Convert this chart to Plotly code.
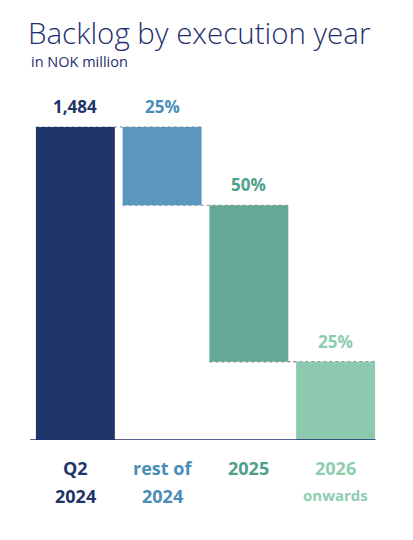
import plotly.graph_objects as go

# backlog split, NOK million
categories = ["Q2 2024", "rest of 2024", "2025", "2026 onwards"]
tick_lines = [("Q2", "2024"), ("rest of", "2024"), ("2025", ""), ("2026", "onwards")]
total = 1484
shares = [0.25, 0.50, 0.25]
bar_labels = ["1,484", "25%", "50%", "25%"]
colors = ["#1F3468", "#5B97BD", "#66A897", "#8DC9AF"]
label_colors = ["#1F3468", "#4A8DB8", "#4FA08A", "#8DCDB0"]

# waterfall: full bar, then falling steps
values = [total] + [total * s for s in shares]
bases = [0]
level = total
for v in values[1:]:
    level -= v
    bases.append(level)

xs = list(range(len(categories)))

fig = go.Figure(go.Bar(
    x=xs, y=values, base=bases,
    width=0.91,
    marker=dict(color=colors, line=dict(width=0)),
    cliponaxis=False,
))

# value labels above each bar
for i, t in enumerate(bar_labels):
    fig.add_annotation(x=i, y=bases[i] + values[i], xref="x", yref="y",
                       yanchor="bottom", yshift=7, text=f"<b>{t}</b>", showarrow=False,
                       font=dict(family="Open Sans", size=17, color=label_colors[i]))

# dotted connectors at each step level
for i in range(1, len(values)):
    lvl = bases[i] + values[i]
    fig.add_shape(type="line", xref="x", yref="y",
                  x0=i - 1 - 0.455, x1=i + 0.455, y0=lvl, y1=lvl,
                  line=dict(color="#8A8A8A", width=1, dash="dot"), layer="below")
fig.add_shape(type="line", xref="x", yref="y",
              x0=2 - 0.455, x1=3 + 0.455, y0=bases[2], y1=bases[2],
              line=dict(color="#8A8A8A", width=1, dash="dot"), layer="below")

# category labels under the axis
for i, (a, b) in enumerate(tick_lines):
    fig.add_annotation(x=i, y=0, xref="x", yref="y", yanchor="top", yshift=-14,
                       text=f"<b>{a}</b>", showarrow=False,
                       font=dict(family="Open Sans", size=18, color=label_colors[i]))
    if b:
        size = 15 if b == "onwards" else 18
        fig.add_annotation(x=i, y=0, xref="x", yref="y", yanchor="top",
                           yshift=-42 if size == 18 else -43,
                           text=f"<b>{b}</b>", showarrow=False,
                           font=dict(family="Open Sans", size=size, color=label_colors[i]))

fig.add_annotation(x=-0.016, y=1.228, xref="paper", yref="paper", xanchor="left", yanchor="top",
                   text="Backlog by execution year", showarrow=False,
                   font=dict(family="Open Sans", size=29.5, color="#1F2E6E", weight=300))
fig.add_annotation(x=-0.008, y=1.114, xref="paper", yref="paper", xanchor="left", yanchor="top",
                   text="in NOK million", showarrow=False,
                   font=dict(family="Open Sans", size=14.5, color="#1F2E6E"))

fig.update_layout(
    width=413, height=540,
    margin=dict(l=24, r=42, t=82, b=108),
    plot_bgcolor="white", paper_bgcolor="white",
    showlegend=False,
    bargap=0.09,
    xaxis=dict(range=[-0.5, 3.5], showticklabels=False, showgrid=False, zeroline=False,
               showline=False, ticks=""),
    yaxis=dict(range=[0, total * 350 / 313], visible=False, showgrid=False),
)
fig.add_shape(type="line", xref="paper", yref="y", x0=-0.005, x1=0.99, y0=0, y1=0,
              line=dict(color="#1F2E6E", width=1.5))

fig.write_html("out.html")
